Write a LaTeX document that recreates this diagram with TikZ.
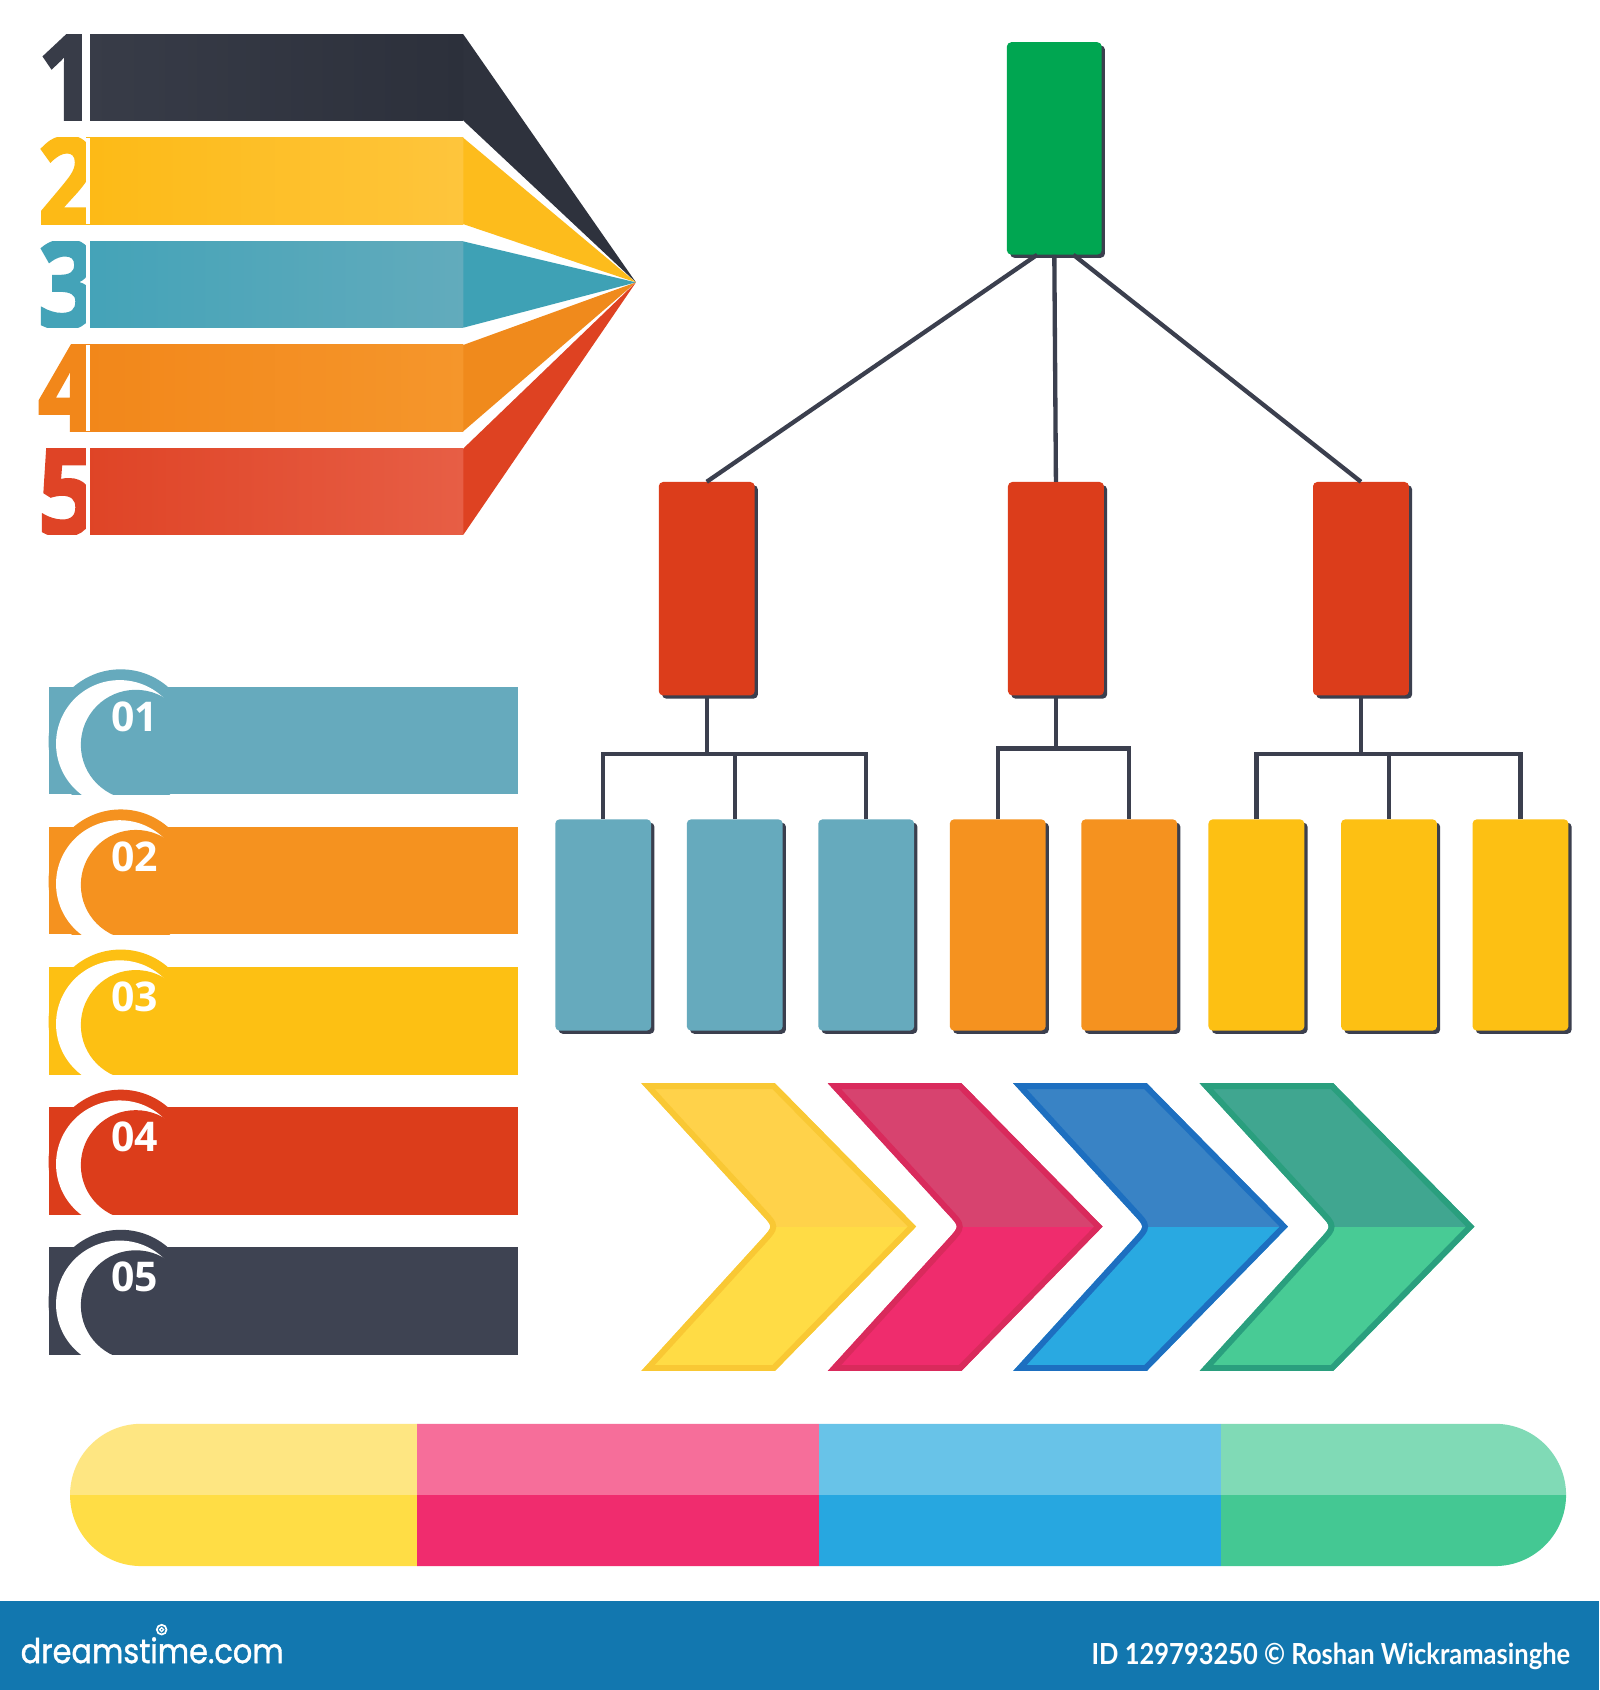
\documentclass[tikz,border=0pt]{standalone}
\usepackage{fontspec}
\setmainfont{Open Sans}
\newfontfamily\numfont{Open Sans}[BoldFeatures={FakeBold=2.5}]
\newfontfamily\lblfont{Open Sans}
\newfontfamily\idfont{Lato}
\newfontfamily\logofont{Poppins}[FakeBold=1.2]
\usetikzlibrary{calc,shadows}

\definecolor{fDarkL}{HTML}{383C48}\definecolor{fDarkR}{HTML}{2C303B}\definecolor{fDarkW}{HTML}{2E323D}
\definecolor{fYelL}{HTML}{FDBA16}\definecolor{fYelR}{HTML}{FEC53C}\definecolor{fYelW}{HTML}{FDBC1C}
\definecolor{fTealL}{HTML}{44A3B8}\definecolor{fTealR}{HTML}{62ABBC}\definecolor{fTealW}{HTML}{3EA1B5}
\definecolor{fOrL}{HTML}{F2871A}\definecolor{fOrR}{HTML}{F5962B}\definecolor{fOrW}{HTML}{F08A1C}
\definecolor{fRedL}{HTML}{DF4426}\definecolor{fRedR}{HTML}{E75E45}\definecolor{fRedW}{HTML}{DE4222}

\definecolor{cTeal}{HTML}{66AABD}
\definecolor{cOrange}{HTML}{F5921F}
\definecolor{cYellow}{HTML}{FDC013}
\definecolor{cRed}{HTML}{DC3D1B}
\definecolor{cDark}{HTML}{3E4352}
\definecolor{cGreen}{HTML}{00A651}
\definecolor{lineg}{HTML}{3B3F4E}

\definecolor{chYA}{HTML}{FFD24A}\definecolor{chYB}{HTML}{FFDC45}\definecolor{chYE}{HTML}{F9C834}
\definecolor{chPA}{HTML}{D7436F}\definecolor{chPB}{HTML}{EF2C6D}\definecolor{chPE}{HTML}{D92A5C}
\definecolor{chBA}{HTML}{3983C5}\definecolor{chBB}{HTML}{29A9E1}\definecolor{chBE}{HTML}{1D6FC0}
\definecolor{chGA}{HTML}{40A690}\definecolor{chGB}{HTML}{48CB95}\definecolor{chGE}{HTML}{2A9F7E}

\definecolor{pYA}{HTML}{FEE682}\definecolor{pYB}{HTML}{FFDD45}
\definecolor{pPA}{HTML}{F66E9A}\definecolor{pPB}{HTML}{F02C6E}
\definecolor{pBA}{HTML}{68C3E8}\definecolor{pBB}{HTML}{27A7E0}
\definecolor{pGA}{HTML}{80DAB6}\definecolor{pGB}{HTML}{44C893}
\definecolor{bandblue}{HTML}{1277AF}

% fan bar: #1 top, #2 numeral, #3 left colour, #4 right colour, #5 wedge colour, #6 name
\newcommand\fanbar[6]{%
  \begin{scope}
    \clip (0,#1) rectangle (90,#1+80);
    \node[anchor=base east, inner sep=0, text=#3,
      font=\numfont\bfseries\fontsize{112}{112}\selectfont] (#6) at (90,#1+80)
      {\scalebox{0.85}[1]{#2}};
  \end{scope}
  \shade[left color=#3, right color=#4] (80,#1) rectangle (430,#1+80);
  \fill[#5] (430,#1) -- (590,262) -- (430,#1+80) -- cycle;
  \fill[white] (80,#1) rectangle (83.5,#1+80);
}

% banner: #1 top, #2 colour, #3 label, #4 name
\newcommand\banner[4]{%
  \fill[#2] (45,#1) rectangle (481,#1+100);
  \begin{scope}
    \clip (45,#1-20) rectangle (481,#1+100);
    \fill[#2] (112,#1+51) circle (67pt);
    \fill[white] (111,#1+53) circle (59pt);
    \fill[#2] (126,#1+54) circle (51pt);
  \end{scope}
  \node[text=white, inner sep=0, font=\lblfont\bfseries\fontsize{38}{38}\selectfont]
    (#4) at (125,#1+28) {#3};
}

% chevron: #1 x0, #2 upper, #3 lower, #4 edge
\newcommand\chevpath[1]{(#1,1005) -- (#1+124,1005) -- (#1+255,1138) -- (#1+124,1272) -- (#1,1272)
  -- (#1+112.6,1148.4) .. controls (#1+122,1138) .. (#1+112.5,1127.7) -- cycle}
\newcommand\chevron[4]{%
  \begin{scope}
    \clip \chevpath{#1};
    \fill[#2] (#1-5,1000) rectangle (#1+260,1138);
    \fill[#3] (#1-5,1138) rectangle (#1+260,1277);
    \draw[#4, line width=11pt, line join=miter] \chevpath{#1};
  \end{scope}
}

\begin{document}
\begin{tikzpicture}[x=1pt,y=-1pt,
  orgbox/.style={rectangle, rounded corners=4pt, inner sep=0, anchor=north west,
    minimum width=89pt, draw=none,
    drop shadow={shadow xshift=3pt, shadow yshift=-3pt, fill=lineg, opacity=1}},
  rootbox/.style={orgbox, fill=cGreen, minimum width=88pt, minimum height=197pt},
  midbox/.style={orgbox, fill=cRed, minimum height=198pt},
  leafbox/.style={orgbox, minimum height=196pt},
  conn/.style={draw=lineg, line width=4pt}]
\useasboundingbox (0,0) rectangle (1484,1568);
\fill[white] (0,0) rectangle (1484,1568);

% ---------- fan graphic ----------
\fanbar{32}{1}{fDarkL}{fDarkR}{fDarkW}{n1}
\fanbar{128}{2}{fYelL}{fYelR}{fYelW}{n2}
\fanbar{224}{3}{fTealL}{fTealR}{fTealW}{n3}
\fanbar{320}{4}{fOrL}{fOrR}{fOrW}{n4}
\fanbar{416}{5}{fRedL}{fRedR}{fRedW}{n5}

% ---------- numbered banners ----------
\banner{637}{cTeal}{01}{b1}
\banner{767}{cOrange}{02}{b2}
\banner{897}{cYellow}{03}{b3}
\banner{1027}{cRed}{04}{b4}
\banner{1157}{cDark}{05}{b5}

% ---------- organisation chart ----------
\node[rootbox] (root) at (934,39) {};
\node[midbox] (r1) at (611,447) {};
\node[midbox] (r2) at (935,447) {};
\node[midbox] (r3) at (1218,447) {};
\node[leafbox, fill=cTeal] (c1) at (515,760) {};
\node[leafbox, fill=cTeal] (c2) at (637,760) {};
\node[leafbox, fill=cTeal] (c3) at (759,760) {};
\node[leafbox, fill=cOrange] (c4) at (881,760) {};
\node[leafbox, fill=cOrange] (c5) at (1003,760) {};
\node[leafbox, fill=cYellow] (c6) at (1121,760) {};
\node[leafbox, fill=cYellow] (c7) at (1244,760) {};
\node[leafbox, fill=cYellow] (c8) at (1366,760) {};

\draw[conn] ($(root.south west)!0.32!(root.south east)$) -- (r1.north);
\draw[conn] (root.south) -- (r2.north);
\draw[conn] ($(root.south west)!0.70!(root.south east)$) -- (r3.north);

\path (r1.south) ++(0,54) coordinate (j1);
\path (r2.south) ++(0,49) coordinate (j2);
\path (r3.south) ++(0,54) coordinate (j3);
\draw[conn] (r1.south) -- (j1);
\draw[conn] (c1.north) -- (c1.north |- j1) -- (c3.north |- j1) -- (c3.north);
\draw[conn] (c2.north) -- (c2.north |- j1);
\draw[conn] (r2.south) -- (j2);
\draw[conn] (c4.north) -- (c4.north |- j2) -- (c5.north |- j2) -- (c5.north);
\draw[conn] (r3.south) -- (j3);
\draw[conn] (c6.north) -- (c6.north |- j3) -- (c8.north |- j3) -- (c8.north);
\draw[conn] (c7.north) -- (c7.north |- j3);

% ---------- chevrons ----------
\chevron{595}{chYA}{chYB}{chYE}
\chevron{768}{chPA}{chPB}{chPE}
\chevron{940}{chBA}{chBB}{chBE}
\chevron{1113}{chGA}{chGB}{chGE}

% ---------- pill bar ----------
\begin{scope}
  \clip[rounded corners=66pt] (65,1321) rectangle (1453,1453);
  \fill[pYA] (60,1316) rectangle (387,1387);
  \fill[pYB] (60,1387) rectangle (387,1458);
  \fill[pPA] (387,1316) rectangle (760,1387);
  \fill[pPB] (387,1387) rectangle (760,1458);
  \fill[pBA] (760,1316) rectangle (1133,1387);
  \fill[pBB] (760,1387) rectangle (1133,1458);
  \fill[pGA] (1133,1316) rectangle (1458,1387);
  \fill[pGB] (1133,1387) rectangle (1458,1458);
\end{scope}

% ---------- footer band ----------
\fill[bandblue] (0,1485) rectangle (1484,1568);
\node[anchor=base west, inner sep=0, text=white] (logo) at (19,1543)
  {\resizebox{244pt}{24pt}{\logofont dreamstime.com}};
\draw[white, line width=1.6pt] (150,1512) circle (4.5pt);
\draw[white, line width=1.2pt] (150,1512) circle (1.8pt);
\node[anchor=base east, inner sep=0, text=white] (credit) at (1457,1544)
  {\resizebox{444pt}{20pt}{\idfont\bfseries ID 129793250 © Roshan Wickramasinghe}};
\end{tikzpicture}
\end{document}
